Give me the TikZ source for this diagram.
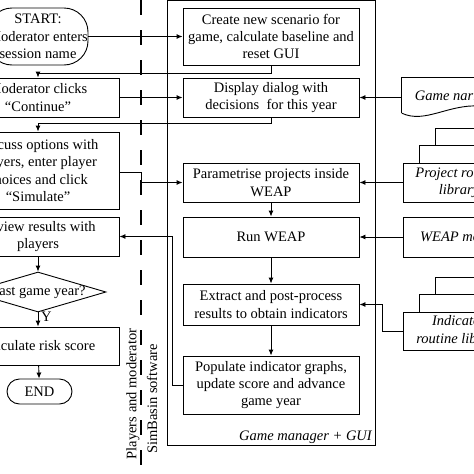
\documentclass[tikz,border=0pt]{standalone}
\usepackage{fontspec}
\setmainfont{Liberation Serif}
\usetikzlibrary{shapes,arrows.meta,positioning,calc}

\tikzset{
  box/.style={draw, rectangle, align=center, inner sep=0pt, line width=0.9pt},
  lbox/.style={box, minimum width=162pt},
  gbox/.style={box, minimum width=176pt},
  sbox/.style={box, minimum width=112pt, font=\itshape},
  term/.style={draw, rounded corners=#1, align=center, inner sep=0pt, line width=0.9pt},
  flow/.style={-{Latex[length=6pt,width=5pt]}, line width=0.9pt},
}

\begin{document}
\fontsize{14.5}{17.4}\selectfont
\begin{tikzpicture}[x=1pt, y=-1pt]
  \useasboundingbox (0,0) rectangle (474,474);
  \clip (0,0) rectangle (474,474);

  % Software frame
  \node[draw, line width=0.9pt, minimum width=208pt, minimum height=444.5pt, inner sep=0pt] (gui) at (271,222.75) {};
  \node[anchor=base east, font=\itshape, inner sep=0pt] (guilabel) at (372,440) {Game manager + GUI};

  % Lane divider
  \draw[line width=2.6pt, dash pattern=on 15pt off 15pt] (141,0) -- (141,474);
  \coordinate (lane) at (141,0);
  \node[rotate=90] (players) at (133,394) {Players and moderator};
  \node[rotate=90] (simbasin) at (152,399) {SimBasin software};

  % Players and moderator
  \node[term=24pt, minimum width=100pt, minimum height=57pt] (start) at (38,36.5) {START:\\Moderator enters\\session name};
  \node[lbox, minimum height=39pt] (clicks) at (38,97.5) {Moderator clicks\\“Continue”};
  \node[lbox, minimum height=77pt] (discuss) at (38,170.5) {Discuss options with\\players, enter player\\choices and click\\“Simulate”};
  \node[lbox, minimum height=39pt] (review) at (38,236.5) {Review results with\\players};
  \node[diamond, draw, line width=0.9pt, aspect=3.4, minimum width=136pt, minimum height=40pt, inner sep=0pt] (last) at (38,292) {};
  \node (lasttxt) at (last) {Last game year?};
  \node[lbox, minimum height=38pt] (calc) at (38,346) {Calculate risk score};
  \node[term=12.5pt, minimum width=65pt, minimum height=25pt] (end) at (39.5,391.5) {END};

  % SimBasin software
  \node[gbox, minimum height=57pt] (create) at (271,36.5) {Create new scenario for\\game, calculate baseline and\\reset GUI};
  \node[gbox, minimum height=39pt] (display) at (271,97.5) {Display dialog with\\decisions~ for this year};
  \node[gbox, minimum height=39pt] (param) at (271,182.5) {Parametrise projects inside\\WEAP};
  \node[gbox, minimum height=40pt] (run) at (271,237) {Run WEAP};
  \node[gbox, minimum height=41pt] (extract) at (271,304.5) {Extract and post-process\\results to obtain indicators};
  \node[gbox, minimum height=58pt] (populate) at (271,385) {Populate indicator graphs,\\update score and advance\\game year};

  % Inputs
  \node[minimum width=118pt, minimum height=35pt, inner sep=0pt, font=\itshape] (narr) at (461,95.5) {Game narrative};
  \draw[line width=0.9pt] (narr.south west) -- (narr.north west) -- (narr.north east);
  \draw[line width=0.9pt] (narr.south west) .. controls (425,124) and (448,104) .. (480,106);
  \node[sbox, minimum height=39pt] (projlib) at (459,182.5) {Project routine\\library};
  \draw[line width=0.9pt] ($(projlib.north west)+(16.5,0)$) -- ++(0,-17) -- ++(120,0);
  \draw[line width=0.9pt] ($(projlib.north west)+(33,-17)$) -- ++(0,-17) -- ++(110,0);
  \node[sbox, minimum height=40pt] (weap) at (459,237) {WEAP model};
  \node[sbox, minimum height=38pt] (indlib) at (459,331) {Indicator\\routine library};
  \draw[line width=0.9pt] ($(indlib.north west)+(16.5,0)$) -- ++(0,-17) -- ++(120,0);
  \draw[line width=0.9pt] ($(indlib.north west)+(33,-17)$) -- ++(0,-17) -- ++(110,0);

  % Flow
  \draw[flow] (start) -- (create);
  \draw[flow] (create.south) -- ++(0,8) -| (clicks.north);
  \draw[flow] (clicks) -- (display);
  \draw[flow] (display.south) -- ++(0,6) -| (discuss.north);
  \draw[flow] ([yshift=-1.5pt]discuss.east) -- ([yshift=-1.5pt]discuss.east -| lane) |- (param.west);
  \draw[flow] (param) -- (run);
  \draw[flow] (run) -- (extract);
  \draw[flow] (extract) -- (populate);
  \draw[flow] (populate.west) -- ++(-10,0) |- (review.east);
  \draw[flow] (review) -- (last);
  \draw[flow] (last) -- (calc);
  \node[anchor=west, inner sep=0pt] (yes) at (41,317) {Y};
  \draw[flow] (calc) -- (end);

  % Inputs into software
  \draw[flow] (narr.west |- display.east) -- (display.east);
  \draw[flow] (projlib) -- (param);
  \draw[flow] (weap) -- (run);
  \draw[flow] (indlib.west) -- ++(-20,0) |- (extract.east);
\end{tikzpicture}
\end{document}
